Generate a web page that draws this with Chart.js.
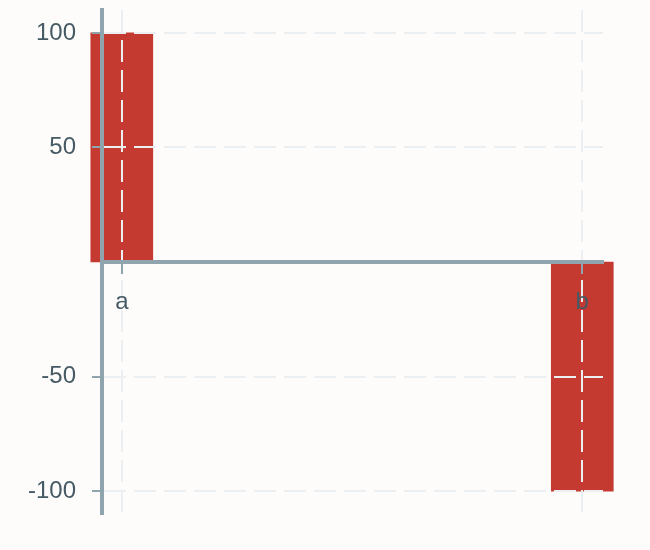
<!DOCTYPE html>
<html>
<head>
<meta charset="utf-8">
<script src="https://cdn.jsdelivr.net/npm/chart.js@4/dist/chart.umd.min.js"></script>
<style>
    html, body { margin: 0; padding: 0; background: #fdfcfb; }
    #wrap { width: 650px; height: 550px; }
</style>
</head>
<body>
<div id="wrap"><canvas id="barChart"></canvas></div>
<script>
// datos
const categorias = ['a', 'b'];
const valores = [100, -100];
const ticksY = [-100, -50, 50, 100];

document.addEventListener('DOMContentLoaded', () => {
    const ejeColor = '#90a4ae';
    const gridColor = '#eceff1';
    const textoColor = '#455a64';

    new Chart(document.getElementById('barChart'), {
        type: 'bar',
        data: {
            datasets: [{
                data: categorias.map((c, i) => ({x: i, y: valores[i]})),
                backgroundColor: '#c43a31',
                borderWidth: 0,
                barThickness: 62,
                clip: false,
            }],
        },
        options: {
            responsive: true,
            maintainAspectRatio: false,
            animation: false,
            layout: {padding: {top: 10, right: 47, bottom: 36, left: 0}},
            plugins: {legend: {display: false}, tooltip: {enabled: false}},
            scales: {
                x: {
                    type: 'linear',
                    position: {y: 0},
                    offset: false,
                    min: -0.043,
                    max: 1.045,
                    afterBuildTicks: s => { s.ticks = categorias.map((c, i) => ({value: i})); },
                    ticks: {
                        z: 1,
                        callback: v => categorias[v],
                        color: textoColor,
                        font: {family: 'Liberation Sans', size: 24},
                        padding: 16,
                        maxRotation: 0,
                    },
                    grid: {z: 1, offset: false, color: gridColor, lineWidth: 2, tickColor: ejeColor, tickWidth: 2, tickLength: 10},
                    border: {z: 1, color: ejeColor, width: 4, dash: [22, 8]},
                },
                y: {
                    min: -110,
                    max: 110,
                    afterBuildTicks: s => { s.ticks = ticksY.map(v => ({value: v})); },
                    afterFit: s => { s.width = 102; s.paddingTop = 0; s.paddingBottom = 0; },
                    ticks: {
                        z: 1,
                        color: textoColor,
                        font: {family: 'Liberation Sans', size: 24},
                        padding: 16,
                    },
                    grid: {z: 1, color: gridColor, lineWidth: 2, tickColor: ejeColor, tickWidth: 2, tickLength: 10},
                    border: {z: 1, color: ejeColor, width: 4, dash: [22, 8]},
                },
            },
        },
    });
});
</script>
</body>
</html>
